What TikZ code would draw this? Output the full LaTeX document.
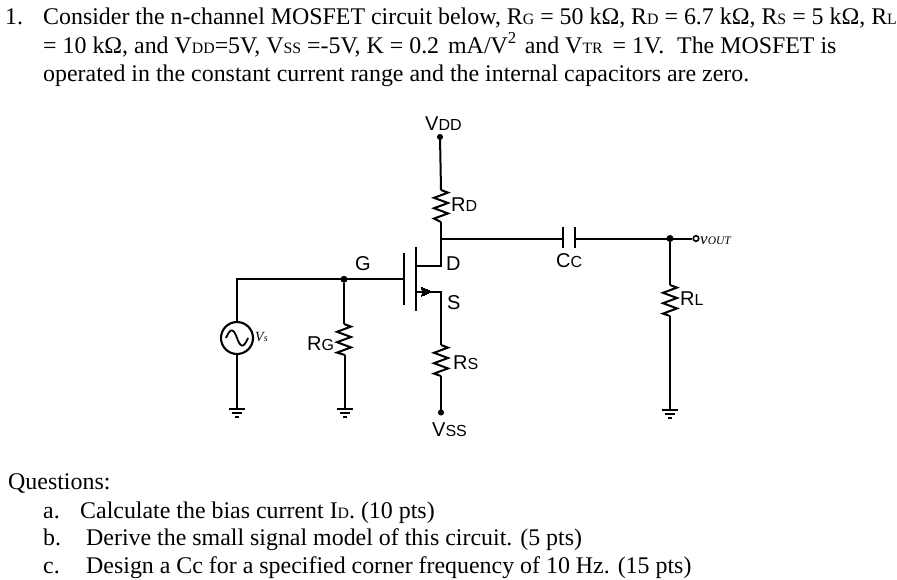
\documentclass[tikz,border=0pt]{standalone}
\usepackage{fontspec}
\setmainfont{Liberation Serif}
\newfontfamily\arialf{Liberation Sans}
\usetikzlibrary{arrows.meta}
\newcommand{\sm}[1]{{\fontsize{15.8}{15.8}\selectfont #1}}
\newcommand{\csm}[1]{{\fontsize{16}{16}\selectfont #1}}
\newcommand{\ResZ}[2]{\draw[wire] (#1) -- ++(7,2.6) -- ++(-14,5.2) -- ++(14,5.2) -- ++(-14,5.2) -- ++(14,5.2) -- ++(-14,5.2) -- (#2);}
\newcommand{\GndZ}[1]{\draw[wire] (#1) ++(-8,0) -- ++(16,0) ++(-13,4) -- ++(10,0) ++(-7,4) -- ++(4,0);}
\tikzset{
  txt/.style={anchor=base west,inner sep=0pt,font=\fontsize{23.9}{28}\selectfont},
  lab/.style={anchor=base west,inner sep=0pt,font=\arialf\fontsize{20}{24}\selectfont},
  wire/.style={line width=2pt,line join=miter,black},
  junction/.style={circle,fill=black,inner sep=0pt,minimum size=7pt},
  term/.style={circle,draw=black,fill=black,line width=1pt,inner sep=0pt,minimum size=5pt},
  oterm/.style={circle,draw=black,fill=white,line width=1.6pt,inner sep=0pt,minimum size=5.5pt},
  source/.style={circle,draw=black,line width=2.1pt,fill=white,inner sep=0pt,minimum size=32pt},
}
\begin{document}
\begin{tikzpicture}[x=1pt,y=-1pt]
\useasboundingbox (0,0) rectangle (897,579);
% problem text
\node[txt] (t0) at (5,24) {1.};
\node[txt] (t1) at (43,24) {Consider the n-channel MOSFET circuit below, R\sm{G} = 50 kΩ, R\sm{D} = 6.7 kΩ, R\sm{S} = 5 kΩ, R\sm{L}};
\node[txt] (t2) at (43,53) {= 10 kΩ, and V\sm{DD}=5V, V\sm{SS} =-5V, K = 0.2 \kern3pt mA/V\textsuperscript{2}\kern2pt{} and V\sm{TR}\kern4pt{} = 1V.\ \kern1pt\ The MOSFET is};
\node[txt] (t3) at (43,81) {operated in the constant current range and the internal capacitors are zero.};
\node[txt] (q0) at (8,489) {Questions:};
\node[txt] (qa) at (43,518) {a.};
\node[txt] (qat) at (80,518) {Calculate the bias current I\sm{D}. (10 pts)};
\node[txt] (qb) at (43,545) {b.};
\node[txt] (qbt) at (86,545) {Derive the small signal model of this circuit. (5 pts)};
\node[txt] (qc) at (43,573) {c.};
\node[txt] (qct) at (86,573) {Design a Cc for a specified corner frequency of 10 Hz. (15 pts)};
% coordinates
\coordinate (rdt) at (441,190);
\coordinate (rdb) at (441,222);
\coordinate (dj) at (441,238.5);
\coordinate (cl) at (563,238.5);
\coordinate (cr) at (575,238.5);
\coordinate (dr) at (441,265.7);
\coordinate (dc) at (416,265.7);
\coordinate (sc) at (416,291.7);
\coordinate (sr) at (441,291.7);
\coordinate (rst) at (441,345);
\coordinate (rsb) at (441,376);
\coordinate (gg) at (404,279.3);
\coordinate (gl) at (237,279.3);
\coordinate (rgt) at (344,324);
\coordinate (rgb) at (345,355);
\coordinate (rlt) at (670,285);
\coordinate (rlb) at (670,316);
\coordinate (g1) at (237,409);
\coordinate (g2) at (345,409);
\coordinate (g3) at (670,410);
% nodes
\node[term] (vdd) at (440,137) {};
\node[term] (vss) at (441,412.5) {};
\node[oterm] (vo) at (696,238.5) {};
\node[junction] (jg) at (344,279.3) {};
\node[junction] (jo) at (670,238.5) {};
\node[source] (vs) at (237,338) {};
% wires
\draw[wire] (vdd) -- (rdt);
\ResZ{rdt}{rdb}
\draw[wire] (rdb) -- (dr) -- (dc);
\draw[wire] (dj) -- (cl);
\draw[wire] (cr) -- (vo);
\draw[wire] (563,227) -- (563,248);
\draw[wire] (575,227) -- (575,248);
\draw[wire] (416,247) -- (416,311);
\draw[wire] (404,253) -- (404,305);
\draw[wire] (gl) -- (gg);
\draw[wire,line cap=rect] (vs) -- (gl);
\draw[wire] (vs) -- (g1);
\draw[wire] (jg) -- (rgt);
\ResZ{rgt}{rgb}
\draw[wire] (rgb) -- (g2);
\draw[wire] (sc) -- (sr) -- (rst);
\draw[line width=0pt,fill=black] (432,291.7) -- (421,287) -- (423,291.7) -- (421,296.4) -- cycle;
\ResZ{rst}{rsb}
\draw[wire] (rsb) -- (vss);
\draw[wire] (jo) -- (rlt);
\ResZ{rlt}{rlb}
\draw[wire] (rlb) -- (g3);
\GndZ{g1}
\GndZ{g2}
\GndZ{g3}
\draw[line width=1.8pt] (226,338) .. controls (231,326) and (234,330) .. (237,338) .. controls (240,346) and (243,350) .. (248,338);
% labels
\node[lab] (lvdd) at (425,130) {V\csm{DD}};
\node[lab] (lrd) at (451,211) {R\csm{D}};
\node[lab] (lg) at (355,270) {G};
\node[lab] (ld) at (446,270) {D};
\node[lab] (ls) at (447,309) {S};
\node[lab] (lrs) at (453,369) {R\csm{S}};
\node[lab] (lrg) at (307,350) {R\csm{G}};
\node[lab] (lrl) at (680,305) {R\csm{L}};
\node[lab] (lcc) at (556,267) {C\csm{C}};
\node[lab] (lvss) at (432,436) {V\csm{SS}};
\node[anchor=base west,inner sep=0pt,font=\itshape\fontsize{14}{14}\selectfont] (lvs) at (255,341) {V\fontsize{10}{10}\selectfont s};
\node[anchor=base west,inner sep=0pt,font=\itshape\fontsize{17}{17}\selectfont] (lvo) at (700,244) {v\fontsize{11.5}{11.5}\selectfont OUT};
\end{tikzpicture}
\end{document}
